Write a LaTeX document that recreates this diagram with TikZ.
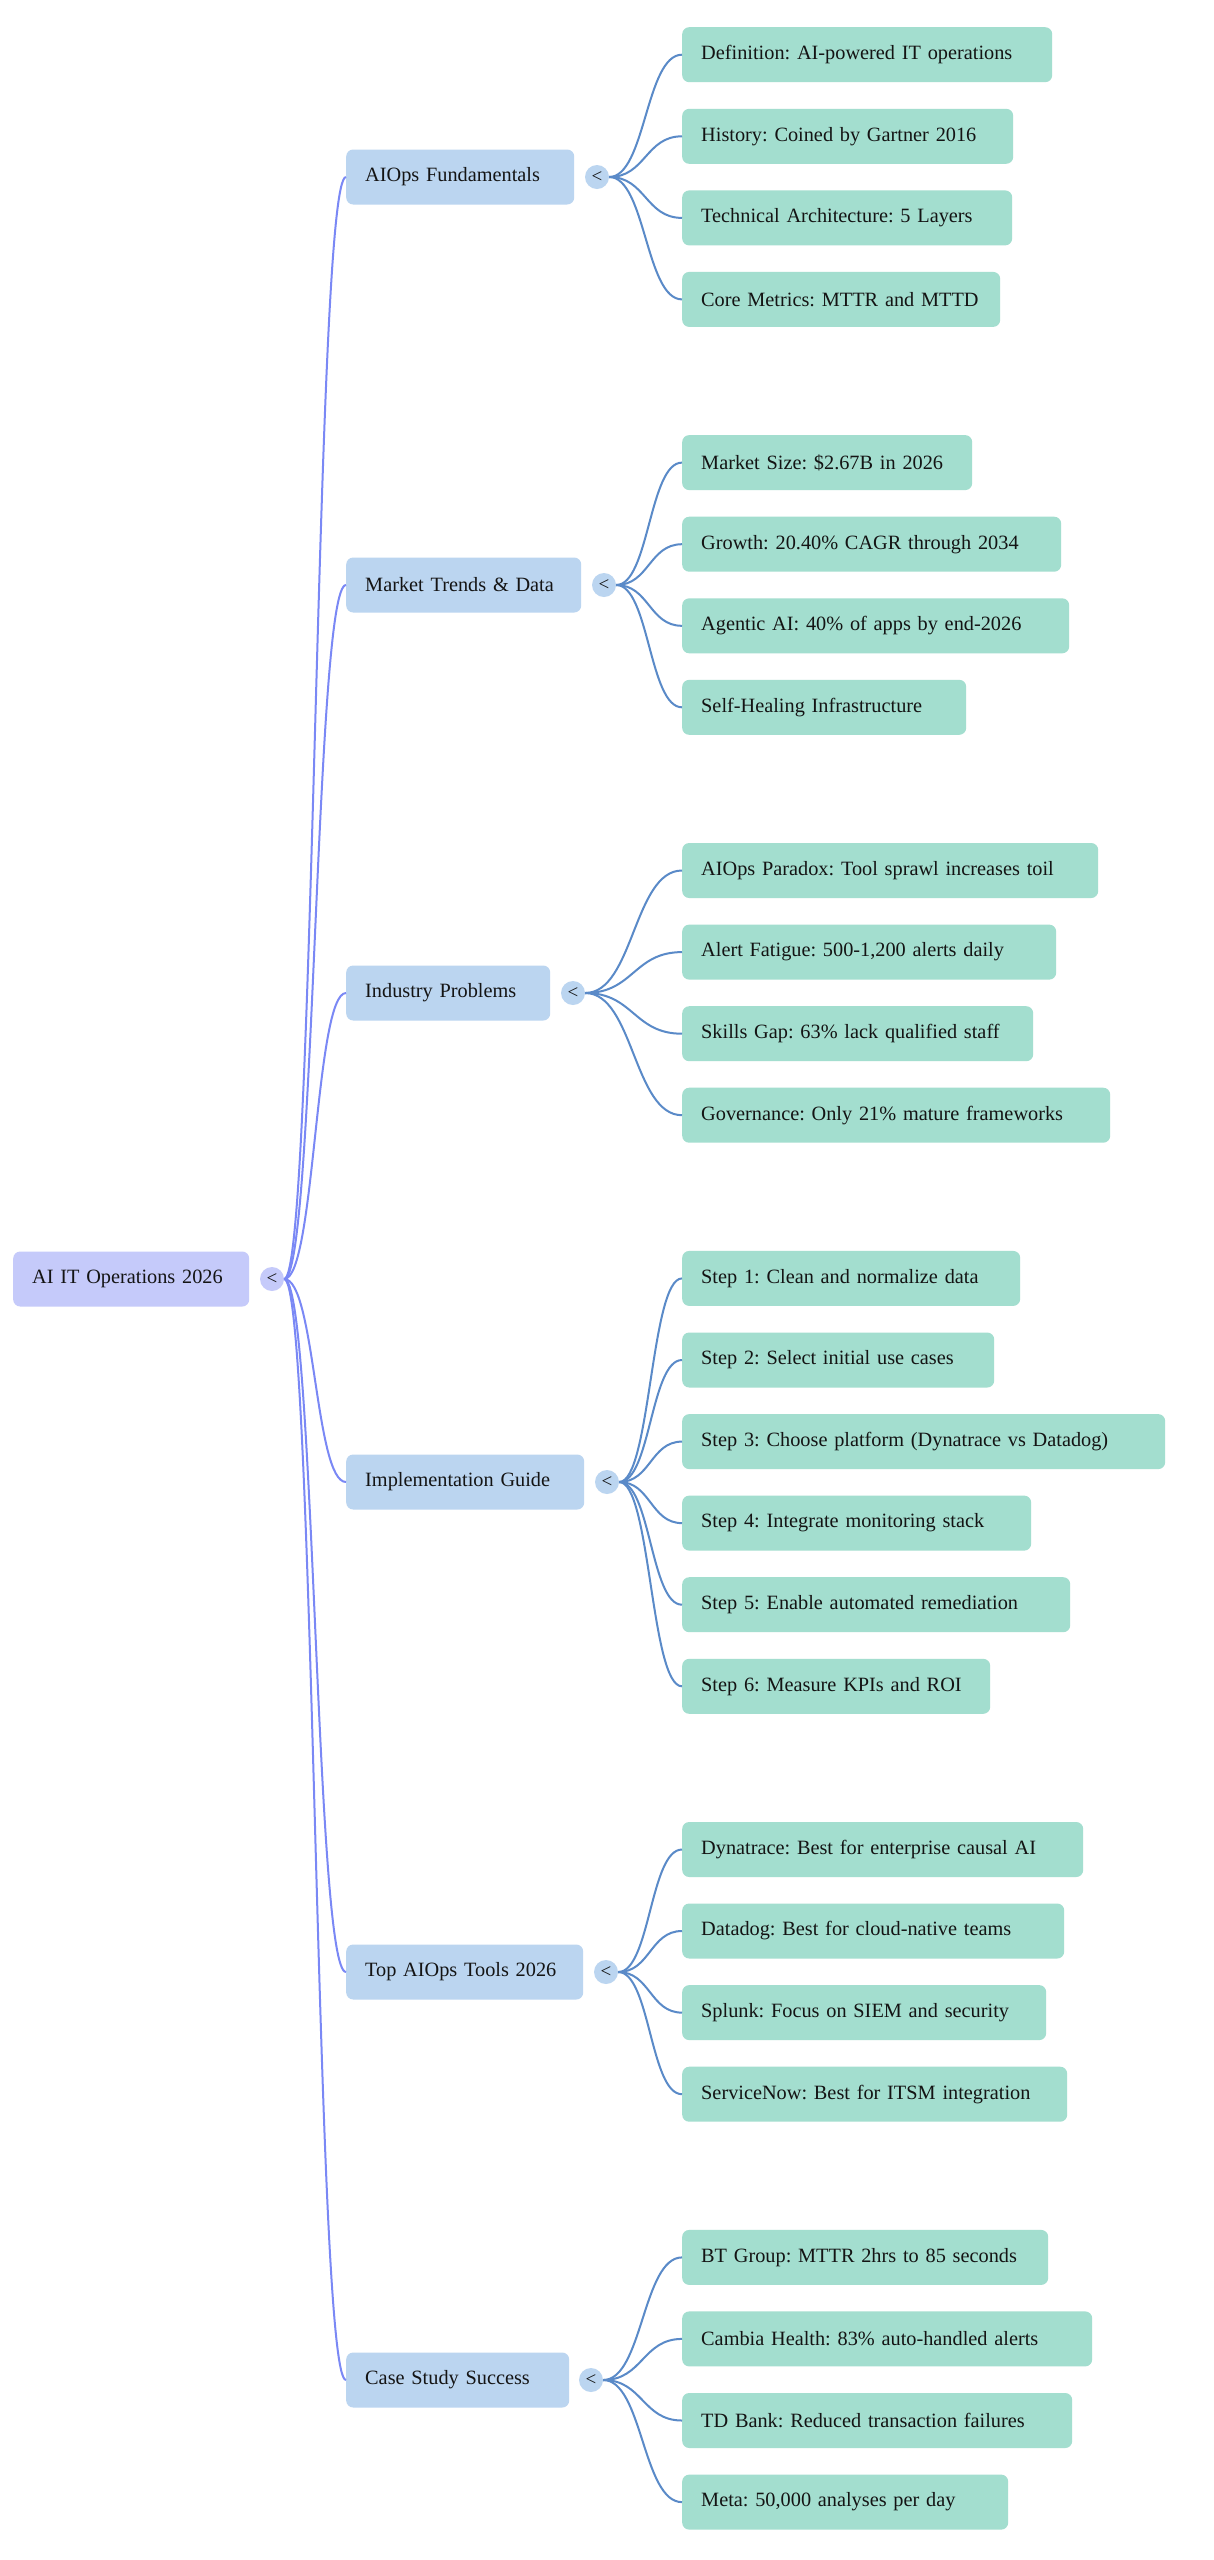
\documentclass[tikz,border=0pt]{standalone}
\usepackage{fontspec}
\setmainfont{Liberation Serif}
\usetikzlibrary{calc}
\definecolor{rootfill}{HTML}{C5CAFA}
\definecolor{brfill}{HTML}{BBD5F0}
\definecolor{leaffill}{HTML}{A3DECF}
\definecolor{rootline}{HTML}{7A88F5}
\definecolor{leafline}{HTML}{5A8AC8}
\definecolor{txt}{HTML}{141414}
\newcommand\mlink[3]{\draw[#1] let \p1=(#2), \p2=(#3) in (\p1) .. controls ({(\x1+\x2)/2},\y1) and ({(\x1+\x2)/2},\y2) .. (\p2);}
\begin{document}
\begin{tikzpicture}[x=1pt,y=-1pt,
 box/.style={rounded corners=7pt, minimum height=55pt, inner xsep=19pt, inner ysep=0pt, align=left, anchor=west, text=txt, font=\fontsize{20.3}{24}\selectfont\frenchspacing},
 rootbox/.style={box, fill=rootfill},
 brbox/.style={box, fill=brfill},
 leafbox/.style={box, fill=leaffill},
 tog/.style={circle, minimum size=24pt, inner sep=0pt, text=txt, font=\fontsize{19}{19}\selectfont},
 rlink/.style={draw=rootline, line width=2pt},
 llink/.style={draw=leafline, line width=2pt},
]
\path[use as bounding box, fill=white] (0,0) rectangle (1214,2560);

% root
\node[rootbox, text width=198pt] (root) at (13,1279) {\mbox{AI IT Operations 2026}};
\node[tog, fill=rootfill] (t0) at (272,1279) {<};

% branches
\node[brbox, text width=190pt] (b1) at (346,177) {\mbox{AIOps Fundamentals}};
\node[tog, fill=brfill] (t1) at (597,177) {<};
\node[brbox, text width=197pt] (b2) at (346,585) {\mbox{Market Trends \& Data}};
\node[tog, fill=brfill] (t2) at (604,585) {<};
\node[brbox, text width=166pt] (b3) at (346,993) {\mbox{Industry Problems}};
\node[tog, fill=brfill] (t3) at (573,993) {<};
\node[brbox, text width=200pt] (b4) at (346,1482) {\mbox{Implementation Guide}};
\node[tog, fill=brfill] (t4) at (607,1482) {<};
\node[brbox, text width=199pt] (b5) at (346,1972) {\mbox{Top AIOps Tools 2026}};
\node[tog, fill=brfill] (t5) at (606,1972) {<};
\node[brbox, text width=185pt] (b6) at (346,2380) {\mbox{Case Study Success}};
\node[tog, fill=brfill] (t6) at (591,2380) {<};

% leaves group 1
\node[leafbox, text width=332pt] (l11) at (682,54.7) {\mbox{Definition: AI-powered IT operations}};
\node[leafbox, text width=293pt] (l12) at (682,136.3) {\mbox{History: Coined by Gartner 2016}};
\node[leafbox, text width=292pt] (l13) at (682,217.9) {\mbox{Technical Architecture: 5 Layers}};
\node[leafbox, text width=280pt] (l14) at (682,299.4) {\mbox{Core Metrics: MTTR and MTTD}};
% group 2
\node[leafbox, text width=252pt] (l21) at (682,462.6) {\mbox{Market Size: \$2.67B in 2026}};
\node[leafbox, text width=341pt] (l22) at (682,544.2) {\mbox{Growth: 20.40\% CAGR through 2034}};
\node[leafbox, text width=349pt] (l23) at (682,625.8) {\mbox{Agentic AI: 40\% of apps by end-2026}};
\node[leafbox, text width=246pt] (l24) at (682,707.3) {\mbox{Self-Healing Infrastructure}};
% group 3
\node[leafbox, text width=378pt] (l31) at (682,870.5) {\mbox{AIOps Paradox: Tool sprawl increases toil}};
\node[leafbox, text width=336pt] (l32) at (682,952.1) {\mbox{Alert Fatigue: 500-1,200 alerts daily}};
\node[leafbox, text width=313pt] (l33) at (682,1033.7) {\mbox{Skills Gap: 63\% lack qualified staff}};
\node[leafbox, text width=390pt] (l34) at (682,1115.2) {\mbox{Governance: Only 21\% mature frameworks}};
% group 4
\node[leafbox, text width=300pt] (l41) at (682,1278.4) {\mbox{Step 1: Clean and normalize data}};
\node[leafbox, text width=274pt] (l42) at (682,1360.0) {\mbox{Step 2: Select initial use cases}};
\node[leafbox, text width=445pt] (l43) at (682,1441.6) {\mbox{Step 3: Choose platform (Dynatrace vs Datadog)}};
\node[leafbox, text width=311pt] (l44) at (682,1523.1) {\mbox{Step 4: Integrate monitoring stack}};
\node[leafbox, text width=350pt] (l45) at (682,1604.7) {\mbox{Step 5: Enable automated remediation}};
\node[leafbox, text width=270pt] (l46) at (682,1686.3) {\mbox{Step 6: Measure KPIs and ROI}};
% group 5
\node[leafbox, text width=363pt] (l51) at (682,1849.5) {\mbox{Dynatrace: Best for enterprise causal AI}};
\node[leafbox, text width=344pt] (l52) at (682,1931.0) {\mbox{Datadog: Best for cloud-native teams}};
\node[leafbox, text width=326pt] (l53) at (682,2012.6) {\mbox{Splunk: Focus on SIEM and security}};
\node[leafbox, text width=347pt] (l54) at (682,2094.2) {\mbox{ServiceNow: Best for ITSM integration}};
% group 6
\node[leafbox, text width=328pt] (l61) at (682,2257.4) {\mbox{BT Group: MTTR 2hrs to 85 seconds}};
\node[leafbox, text width=372pt] (l62) at (682,2338.9) {\mbox{Cambia Health: 83\% auto-handled alerts}};
\node[leafbox, text width=352pt] (l63) at (682,2420.5) {\mbox{TD Bank: Reduced transaction failures}};
\node[leafbox, text width=288pt] (l64) at (682,2502.1) {\mbox{Meta: 50,000 analyses per day}};

% root links
\foreach \b in {b1,b2,b3,b4,b5,b6}{\mlink{rlink}{t0.east}{\b.west}}
% leaf links
\foreach \l in {l11,l12,l13,l14}{\mlink{llink}{t1.east}{\l.west}}
\foreach \l in {l21,l22,l23,l24}{\mlink{llink}{t2.east}{\l.west}}
\foreach \l in {l31,l32,l33,l34}{\mlink{llink}{t3.east}{\l.west}}
\foreach \l in {l41,l42,l43,l44,l45,l46}{\mlink{llink}{t4.east}{\l.west}}
\foreach \l in {l51,l52,l53,l54}{\mlink{llink}{t5.east}{\l.west}}
\foreach \l in {l61,l62,l63,l64}{\mlink{llink}{t6.east}{\l.west}}
\end{tikzpicture}
\end{document}
